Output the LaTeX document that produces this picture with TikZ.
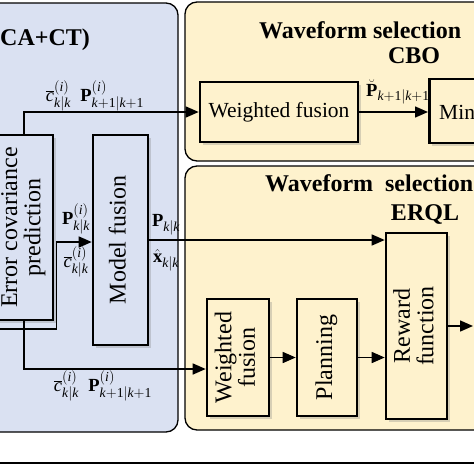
\documentclass[tikz,border=0pt]{standalone}
\usepackage{fontspec}
\setmainfont{Liberation Serif}
\usepackage{graphicx}
\usetikzlibrary{arrows.meta,shadows,calc}
\definecolor{bluebg}{HTML}{DAE1F2}
\definecolor{creambg}{HTML}{FEF2CD}
\renewcommand{\defaultscriptratio}{.74}
\newcommand{\bP}{\mathbf{P}}
\newcommand{\kk}{\mathit{k}|\mathit{k}}
\newcommand{\kpo}{\mathit{k}{+}\mathrm{1}|\mathit{k}{+}\mathrm{1}}
\newcommand{\cbar}{\overline{\mathit{c}}}
\newcommand{\ii}{(\mathit{i})}
\tikzset{
  panel/.style={draw=black, line width=1.3pt, rounded corners=12pt},
  blk/.style={draw=black, line width=2.6pt, inner sep=0pt,
    drop shadow={shadow xshift=2.5pt, shadow yshift=-2.5pt, opacity=0.3},
    font=\fontsize{24}{22}\selectfont},
  arr/.style={line width=1.5pt, -{Triangle[length=13pt,width=11pt]}},
  lbl/.style={font=\fontsize{18.5}{20}\selectfont, inner sep=0pt},
  ttl/.style={font=\fontsize{24}{26}\selectfont\bfseries, inner sep=0pt},
  plain/.style={font=\fontsize{21.5}{24}\selectfont, inner sep=0pt}
}
\newcommand{\vtxt}[1]{\rotatebox{90}{\begin{tabular}{@{}c@{}}#1\end{tabular}}}
\begin{document}
\begin{tikzpicture}[x=1pt,y=-1pt]
\useasboundingbox (0,0) rectangle (474,474);
\clip (0,0) rectangle (474,474);
\fill[white] (0,0) rectangle (474,474);
% panels
\draw[panel, fill=bluebg] (-20,3) rectangle (178,432);
\draw[panel, fill=creambg] (185,2) rectangle (520,161);
\draw[panel, fill=creambg] (185,166) rectangle (520,430);
\draw[line width=1.8pt] (0,463) -- (474,463);
% titles
\node[ttl, anchor=base west] (t0) at (0,45) {CA+CT)};
\node[ttl, anchor=base west] (t1) at (259,38) {Waveform selection};
\node[ttl, anchor=base] (t2) at (414,63) {CBO};
\node[ttl, anchor=base west] (t3) at (265,191) {Waveform\ \ selection};
\node[ttl, anchor=base] (t4) at (425,220) {ERQL};
% blocks
\node[blk, fill=bluebg, minimum width=58pt, minimum height=185pt] (ecp) at (24,227.5) {\vtxt{Error covariance\\prediction}};
\node[blk, fill=bluebg, minimum width=55pt, minimum height=210pt] (mf) at (120.5,240) {\vtxt{Model fusion}};
\node[blk, fill=creambg, minimum width=158pt, minimum height=60pt] (wf1) at (279,112) {};
\node[plain] (wf1t) at (279,112) {Weighted fusion};
\node[blk, fill=creambg, minimum width=70pt, minimum height=64pt, anchor=west] (mn) at (428,111) {};
\node[plain, anchor=west] (mnt) at (439,112) {Min};
\node[blk, fill=creambg, minimum width=62pt, minimum height=117pt] (wf2) at (238,357.5) {\vtxt{Weighted\\fusion}};
\node[blk, fill=creambg, minimum width=60pt, minimum height=117pt] (plan) at (327,357.5) {\vtxt{Planning}};
\node[blk, fill=creambg, minimum width=61pt, minimum height=186pt] (rew) at (416.5,326) {\vtxt{Reward\\function}};
% connectors
\coordinate (src) at (-8,329);
\coordinate (out) at (473,326);
\draw[arr] (ecp.north) |- (wf1.west);
\draw[arr] (ecp.south) |- ($(wf2.west)+(0,11.5)$);
\draw[arr] (src) -| ($(mf.west)+(-35,2)$) -- ($(mf.west)+(0,2)$);
\draw[arr] (mf.east) -- (mf.east -| rew.west);
\draw[arr] (wf1.east) -- (wf1.east -| mn.west);
\draw[arr] (wf2.east) -- (plan.west);
\draw[arr] (plan.east) -- (plan.east -| rew.west);
\draw[arr] (rew.east) -- (out);
% labels
\node[lbl] (l1) at (95,96) {$\cbar^{\ii}_{\kk}\;\;\bP^{\ii}_{\kpo}$};
\node[lbl] (l2) at (76,219) {$\bP^{\ii}_{\kk}$};
\node[lbl] (l3) at (76,262) {$\cbar^{\ii}_{\kk}$};
\node[lbl] (l4) at (166,225) {$\bP_{\kk}$};
\node[lbl] (l5) at (166,260) {$\hat{\mathbf{x}}_{\kk}$};
\node[lbl] (l6) at (398,92) {$\breve{\bP}_{\kpo}$};
\node[lbl] (l7) at (103,386) {$\cbar^{\ii}_{\kk}\;\;\bP^{\ii}_{\kpo}$};
\end{tikzpicture}
\end{document}
